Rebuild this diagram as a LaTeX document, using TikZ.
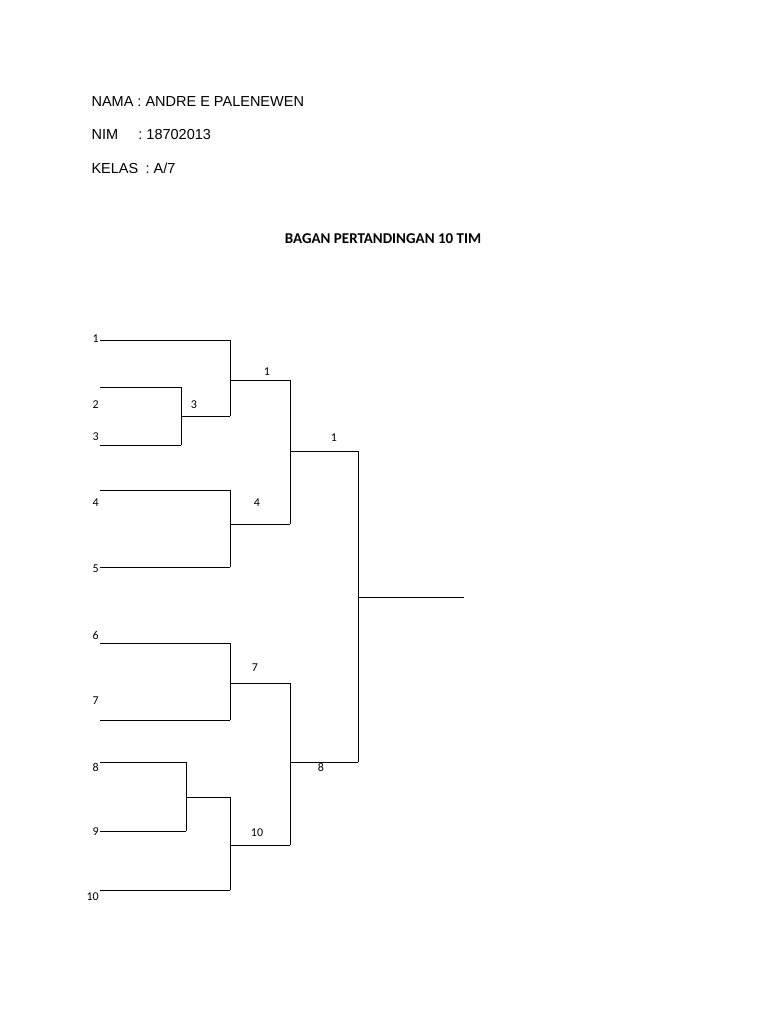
\documentclass[tikz,border=0pt]{standalone}
\usepackage{fontspec}
\setmainfont{Carlito}
\newfontfamily\arialf{Liberation Sans}
\begin{document}
\begin{tikzpicture}[x=1pt,y=-1pt,
  ln/.style={line width=0.9pt},
  hd/.style={anchor=west,font=\arialf\fontsize{14.5}{16}\selectfont},
  tm/.style={anchor=east,font=\fontsize{12}{14}\selectfont,inner sep=1pt},
  wl/.style={font=\fontsize{12}{14}\selectfont,inner sep=1pt}]
\useasboundingbox (0,0) rectangle (768,1024);
\fill[white] (0,0) rectangle (768,1024);
\node[hd] (h1) at (88,102) {NAMA : ANDRE E PALENEWEN};
\node[hd] (h2) at (88,135) {NIM\hspace{1.4em}: 18702013};
\node[hd] (h3) at (88,168) {KELAS\hspace{0.5em}: A/7};
\node[font=\bfseries\fontsize{15}{17}\selectfont] (title) at (383,239) {BAGAN PERTANDINGAN 10 TIM};
% teams
\foreach \n/\y/\xe/\ly in {1/340/230/339,2/387/181/405,3/445/181/437,4/490/230/503,5/567/230/569,6/643/230/635,7/720/230/701,8/762/186/767,9/831/186/832,10/890/230/897}{
  \coordinate (t\n) at (100,\y);
  \coordinate (e\n) at (\xe,\y);
  \draw[ln] (t\n) -- (e\n);
  \node[tm] (l\n) at (100,\ly) {\n};
}
\draw[ln] (e2) -- (e3);
\coordinate (a) at (181,416); \coordinate (ae) at (230,416); \draw[ln] (a) -- (ae);
\draw[ln] (e1) -- (230,416);
\coordinate (b) at (230,380); \coordinate (be) at (290,380); \draw[ln] (b) -- (be);
\draw[ln] (e4) -- (e5);
\coordinate (c) at (230,524); \coordinate (ce) at (290,524); \draw[ln] (c) -- (ce);
\draw[ln] (be) -- (ce);
\coordinate (d) at (290,451); \coordinate (de) at (358,451); \draw[ln] (d) -- (de);
\draw[ln] (e6) -- (e7);
\coordinate (f) at (230,683); \coordinate (fe) at (290,683); \draw[ln] (f) -- (fe);
\draw[ln] (e8) -- (e9);
\coordinate (g) at (186,797); \coordinate (ge) at (230,797); \draw[ln] (g) -- (ge);
\draw[ln] (ge) -- (e10);
\coordinate (h) at (230,845); \coordinate (he) at (290,845); \draw[ln] (h) -- (he);
\draw[ln] (fe) -- (he);
\coordinate (k) at (290,762); \coordinate (ke) at (358,762); \draw[ln] (k) -- (ke);
\draw[ln] (de) -- (ke);
\coordinate (m) at (358,597); \coordinate (me) at (464,597); \draw[ln] (m) -- (me);
% winners
\node[wl] (w3) at (194,405) {3};
\node[wl] (w1a) at (267,372) {1};
\node[wl] (w4) at (257,503) {4};
\node[wl] (w1b) at (334,438) {1};
\node[wl] (w7) at (255,668) {7};
\node[wl] (w8) at (321,767) {8};
\node[wl] (w10) at (257,833) {10};
\end{tikzpicture}
\end{document}
